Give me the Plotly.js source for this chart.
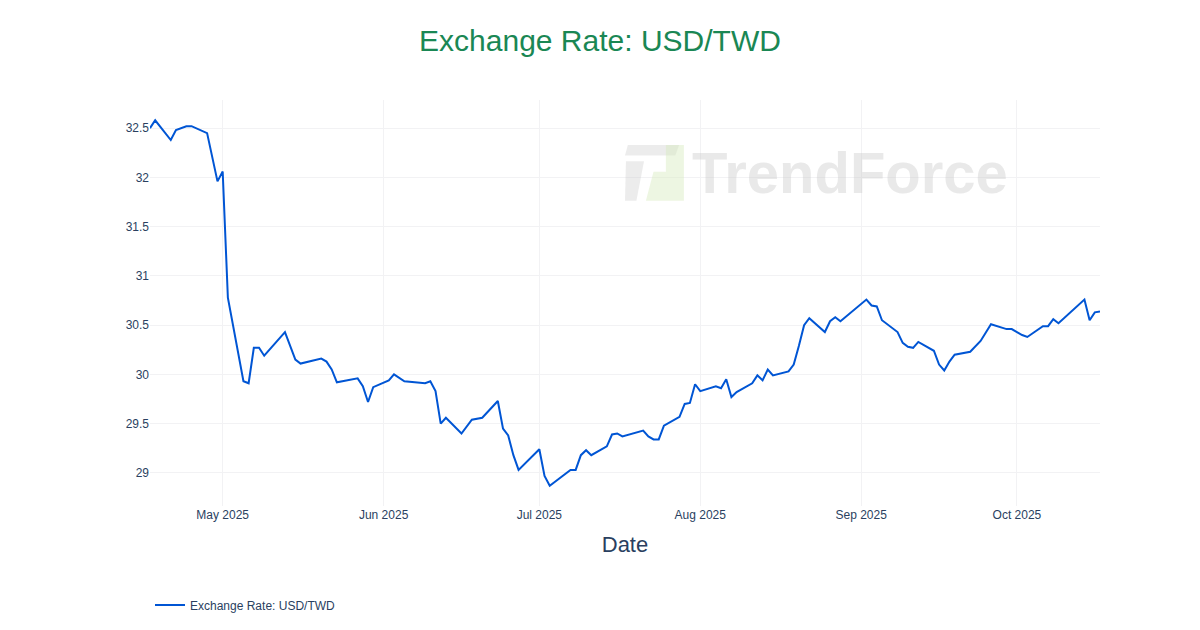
<!DOCTYPE html>
<html>
<head>
<meta charset="utf-8">
<script src="https://cdn.plot.ly/plotly-3.0.1.min.js"></script>
<style>html,body{margin:0;padding:0;background:#fff;}#chart{width:1200px;height:630px;}</style>
</head>
<body>
<div id="chart"></div>
<script>
const seriesName = "Exchange Rate: USD/TWD";
const dates = [
"2025-04-17","2025-04-18","2025-04-21","2025-04-22","2025-04-24","2025-04-25","2025-04-28","2025-04-30",
"2025-05-01","2025-05-02","2025-05-05","2025-05-06","2025-05-07","2025-05-08","2025-05-09","2025-05-13",
"2025-05-15","2025-05-16","2025-05-20","2025-05-21","2025-05-22","2025-05-23","2025-05-27","2025-05-28",
"2025-05-29","2025-05-30","2025-06-02","2025-06-03","2025-06-05","2025-06-09","2025-06-10","2025-06-11",
"2025-06-12","2025-06-13","2025-06-16","2025-06-17","2025-06-18","2025-06-20","2025-06-23","2025-06-24",
"2025-06-25","2025-06-26","2025-06-27","2025-07-01","2025-07-02","2025-07-03","2025-07-07","2025-07-08",
"2025-07-09","2025-07-10","2025-07-11","2025-07-14","2025-07-15","2025-07-16","2025-07-17","2025-07-21",
"2025-07-22","2025-07-23","2025-07-24","2025-07-25","2025-07-28","2025-07-29","2025-07-30","2025-07-31",
"2025-08-01","2025-08-04","2025-08-05","2025-08-06","2025-08-07","2025-08-08","2025-08-11","2025-08-12",
"2025-08-13","2025-08-14","2025-08-15","2025-08-18","2025-08-19","2025-08-20","2025-08-21","2025-08-22",
"2025-08-25","2025-08-26","2025-08-27","2025-08-28","2025-09-02","2025-09-03","2025-09-04","2025-09-05",
"2025-09-08","2025-09-09","2025-09-10","2025-09-11","2025-09-12","2025-09-15","2025-09-16","2025-09-17",
"2025-09-18","2025-09-19","2025-09-22","2025-09-24","2025-09-26","2025-09-29","2025-09-30","2025-10-01",
"2025-10-02","2025-10-03","2025-10-06","2025-10-07","2025-10-08","2025-10-09","2025-10-14","2025-10-15",
"2025-10-16","2025-10-17"
];
const rates = [
32.50,32.58,32.38,32.48,32.52,32.52,32.45,31.96,
32.06,30.78,29.93,29.91,30.27,30.27,30.19,30.43,
30.15,30.11,30.16,30.13,30.05,29.92,29.96,29.88,
29.72,29.87,29.94,30.00,29.93,29.91,29.93,29.83,
29.50,29.56,29.40,29.47,29.54,29.56,29.73,29.45,
29.38,29.18,29.03,29.24,28.97,28.87,29.03,29.03,
29.18,29.23,29.18,29.27,29.39,29.40,29.37,29.43,
29.37,29.34,29.34,29.48,29.57,29.70,29.71,29.90,
29.83,29.88,29.86,29.95,29.77,29.82,29.91,29.99,
29.94,30.05,29.99,30.03,30.10,30.29,30.50,30.57,
30.43,30.54,30.58,30.54,30.76,30.70,30.69,30.55,
30.43,30.32,30.28,30.27,30.33,30.24,30.10,30.04,
30.13,30.20,30.23,30.34,30.51,30.46,30.46,30.43,
30.40,30.38,30.49,30.49,30.56,30.52,30.76,30.55,
30.63,30.64
];

const trace = {
  x: dates, y: rates, type: "scatter", mode: "lines", name: seriesName,
  line: {color: "#0055d4", width: 2}
};

const layout = {
  width: 1200, height: 630,
  margin: {l: 150, r: 100, t: 100, b: 123},
  paper_bgcolor: "#ffffff", plot_bgcolor: "#ffffff",
  font: {family: "Arial, 'Liberation Sans', sans-serif", color: "#2a3f5f", size: 12},
  title: {text: "Exchange Rate: USD/TWD", x: 0.5, xanchor: "center", y: 0.935, yanchor: "middle",
          font: {size: 30, color: "#1a8754", family: "Arial, 'Liberation Sans', sans-serif"}},
  xaxis: {
    type: "date", title: {text: "Date", font: {size: 22, color: "#2a3f5f"}, standoff: 15},
    showgrid: true, gridcolor: "#f2f2f4", zeroline: false, showline: false,
    tickformat: "%b %Y", dtick: "M1", ticks: "", tickfont: {size: 12, color: "#2a3f5f"}
  },
  yaxis: {
    showgrid: true, gridcolor: "#f2f2f4", zeroline: false, showline: false,
    dtick: 0.5, ticks: "", tickfont: {size: 12, color: "#2a3f5f"}
  },
  showlegend: true,
  legend: {orientation: "h", x: 0, xanchor: "left", y: -0.205, yanchor: "top", font: {size: 12, color: "#2a3f5f"}},
  shapes: [
    {type: "path", xref: "paper", yref: "paper", layer: "above", line: {width: 0},
     fillcolor: "rgba(200,200,200,0.35)",
     path: "M 0.503 0.889 L 0.557 0.889 L 0.553 0.863 L 0.500 0.863 Z"},
    {type: "path", xref: "paper", yref: "paper", layer: "above", line: {width: 0},
     fillcolor: "rgba(200,200,200,0.35)",
     path: "M 0.501 0.849 L 0.520 0.849 L 0.512 0.752 L 0.500 0.752 Z"},
    {type: "path", xref: "paper", yref: "paper", layer: "above", line: {width: 0},
     fillcolor: "rgba(215,235,190,0.45)",
     path: "M 0.543 0.889 L 0.562 0.889 L 0.562 0.752 L 0.522 0.752 L 0.530 0.823 L 0.543 0.823 Z"}
  ],
  annotations: [
    {text: "<b>TrendForce</b>", xref: "paper", yref: "paper", x: 0.737, y: 0.822,
     xanchor: "center", yanchor: "middle", showarrow: false,
     font: {size: 58, color: "rgba(200,200,200,0.40)", family: "Arial, 'Liberation Sans', sans-serif"}}
  ]
};

Plotly.newPlot("chart", [trace], layout, {displayModeBar: false, staticPlot: true});
</script>
</body>
</html>
